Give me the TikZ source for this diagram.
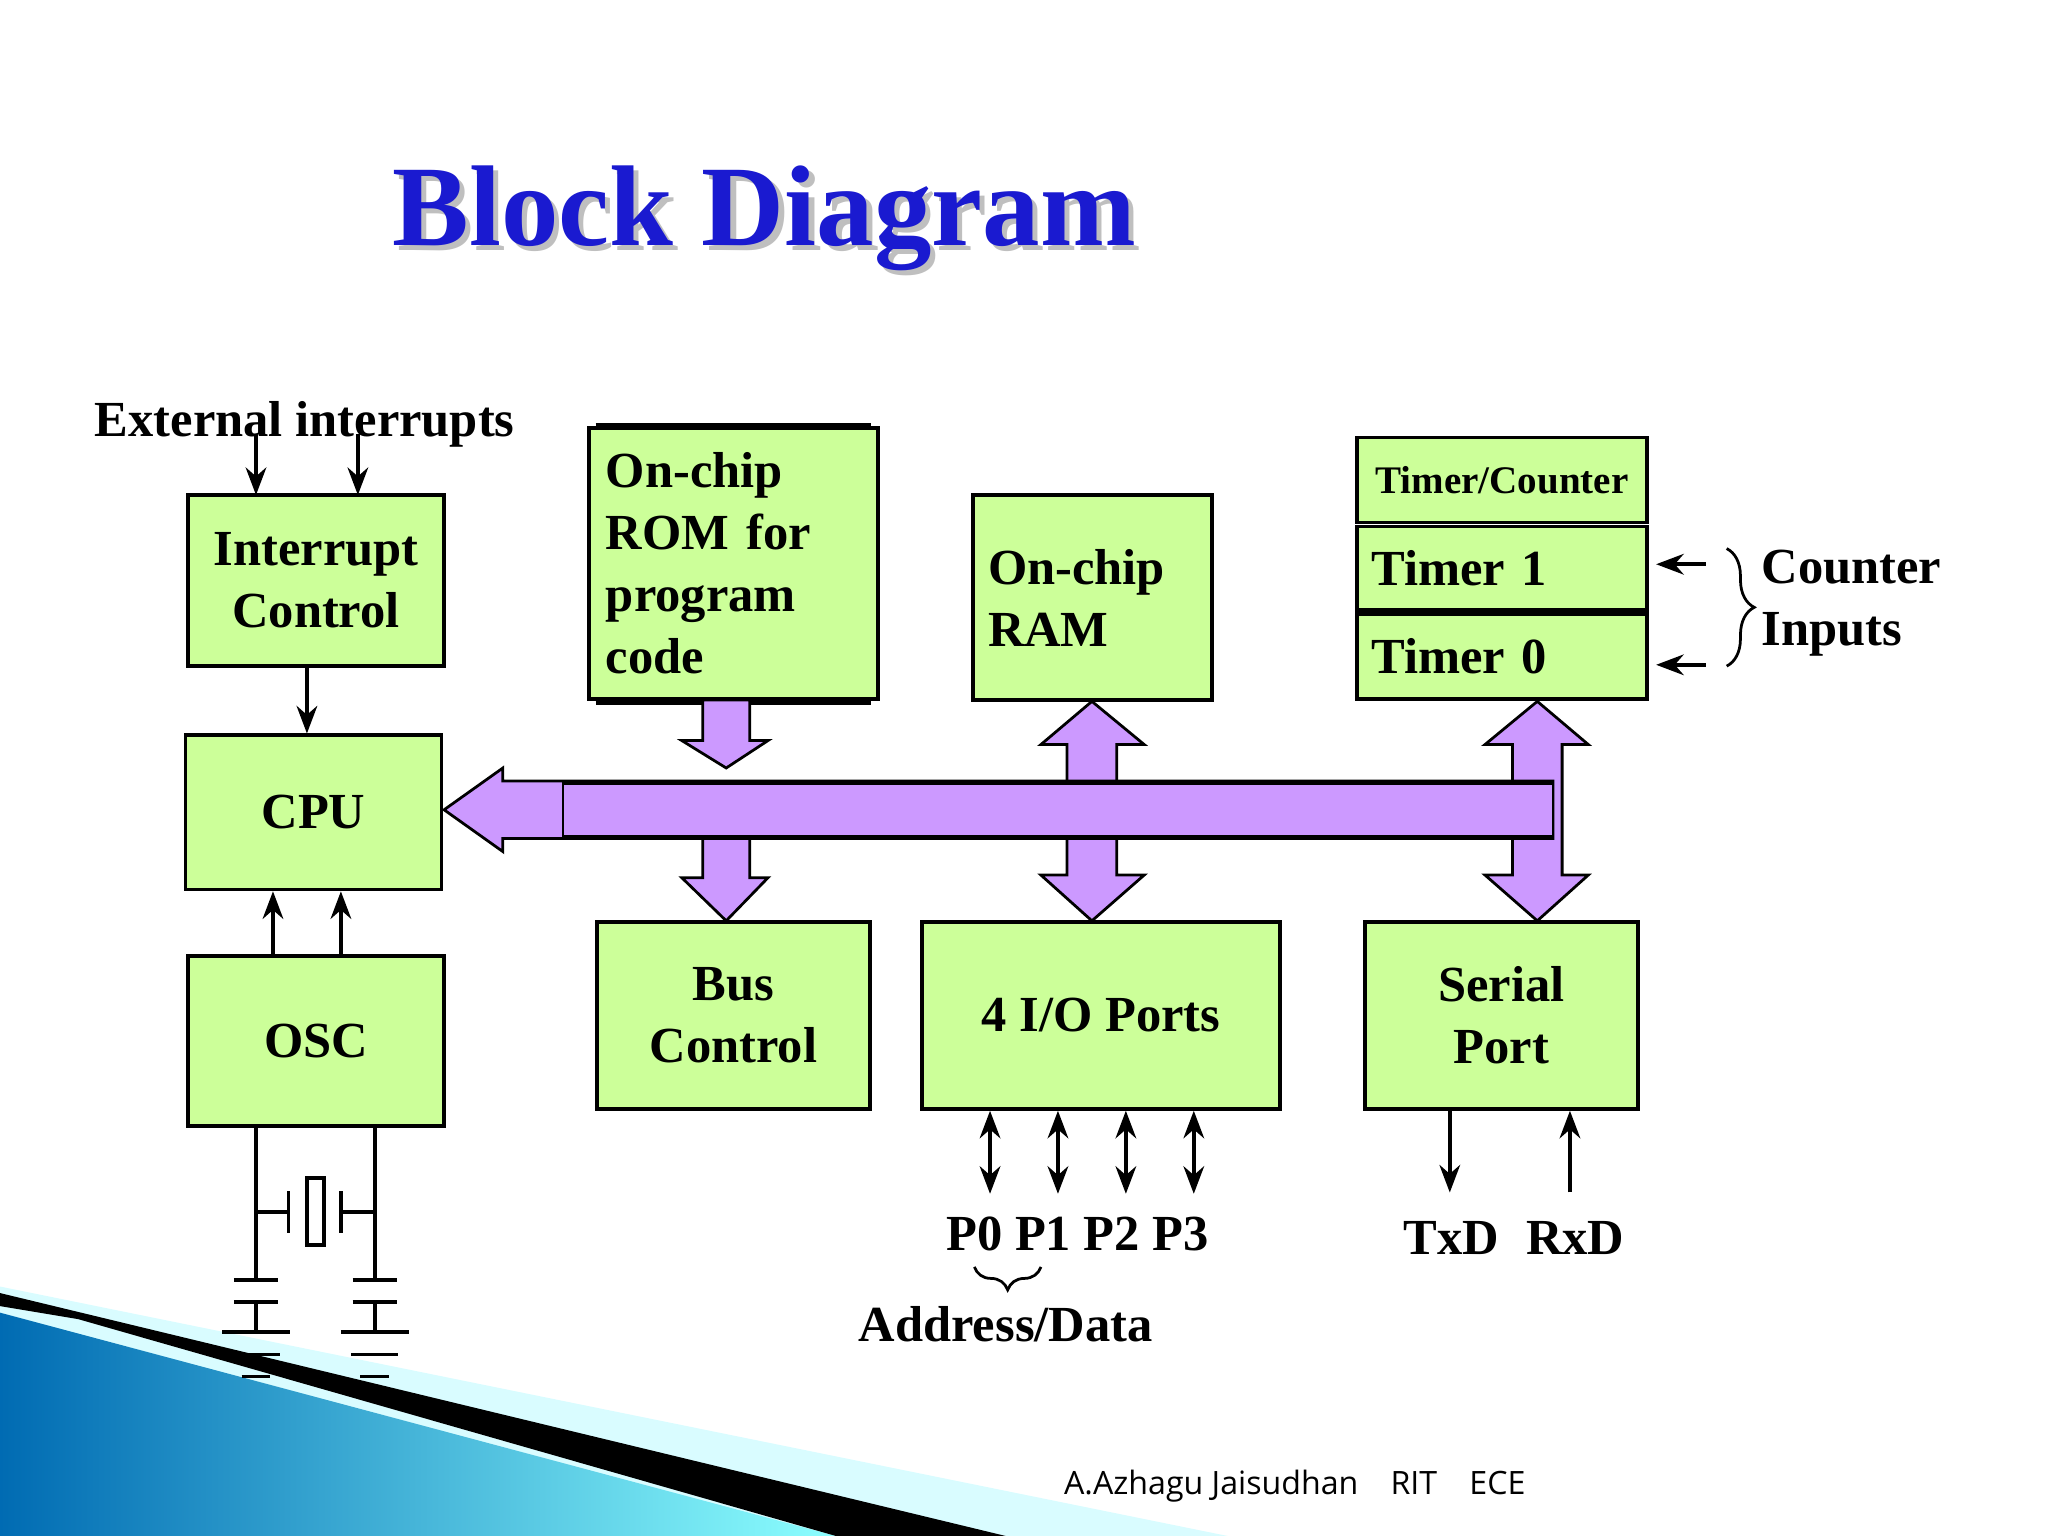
\documentclass[tikz,border=0pt]{standalone}
\usepackage{fontspec}
\setmainfont{Liberation Serif}
\newfontfamily\footfont{Open Sans}
\usetikzlibrary{arrows.meta,decorations.pathreplacing}
\definecolor{boxg}{HTML}{CCFF99}
\definecolor{busp}{HTML}{CC99FF}
\definecolor{titleb}{HTML}{1A1AD0}
\begin{document}
\begin{tikzpicture}[x=0.01cm,y=-0.01cm,
  box/.style={draw=black,fill=boxg,line width=0.8pt,inner sep=1pt,font=\fontsize{11}{13.5}\selectfont\bfseries,align=center},
  bus/.style={draw=black,fill=busp,line width=0.6pt,line join=miter},
  sig/.style={line width=0.8pt,-{Stealth[length=6pt,width=4.5pt]}},
  sigb/.style={line width=0.8pt,{Stealth[length=6pt,width=4.5pt]}-{Stealth[length=6pt,width=4.5pt]}},
  wire/.style={line width=0.8pt},
  lbl/.style={font=\fontsize{11}{13.5}\selectfont\bfseries,inner sep=0pt}]
\useasboundingbox (0,0) rectangle (1568,1176);
% background decoration
\fill[blue!8!cyan!15!white] (0,985) -- (940,1176) -- (0,1176) -- cycle;
\shade[left color=cyan!60!blue!70!black,right color=cyan!45] (0,1005) -- (640,1176) -- (0,1176) -- cycle;
\fill[black] (0,990) -- (770,1176) -- (640,1176) -- (60,1010) -- (0,1000) -- cycle;
% title
\node[font=\fontsize{25}{28}\selectfont\bfseries,text=gray!50,inner sep=0pt] at (589,171) {Block Diagram};
\node[font=\fontsize{25}{28}\selectfont\bfseries,text=titleb,inner sep=0pt] (title) at (585,167) {Block Diagram};
% boxes
\node[box,minimum width=1.96cm,minimum height=1.31cm] (int) at (242,444.5) {Interrupt\\Control};
\node[box,minimum width=1.96cm,minimum height=1.18cm] (cpu) at (240,622) {CPU};
\node[box,minimum width=1.96cm,minimum height=1.30cm] (osc) at (242,797) {OSC};
\node[box,minimum width=2.21cm,minimum height=2.07cm,align=left,text width=1.95cm] (rom) at (561.5,431.5) {On-chip\\ROM for\\program\\code};
\draw[wire] (456,325) -- (667,325) (456,538) -- (667,538);
\node[box,minimum width=1.83cm,minimum height=1.57cm,align=left,text width=1.6cm] (ram) at (836.5,457.5) {On-chip\\RAM};
\node[box,minimum width=2.22cm,minimum height=0.65cm,font=\fontsize{8.5}{10}\selectfont\bfseries] (tc) at (1150,367.5) {Timer/Counter};
\node[box,minimum width=2.22cm,minimum height=0.64cm,align=left,text width=2.0cm] (t1) at (1150,435) {Timer 1};
\node[box,minimum width=2.22cm,minimum height=0.65cm,align=left,text width=2.0cm] (t0) at (1150,502.5) {Timer 0};
\node[box,minimum width=2.09cm,minimum height=1.43cm] (busc) at (561.5,777.5) {Bus\\Control};
\node[box,minimum width=2.74cm,minimum height=1.43cm] (io) at (843,777.5) {4 I/O Ports};
\node[box,minimum width=2.09cm,minimum height=1.43cm] (ser) at (1149.5,777.5) {Serial\\Port};
% vertical bus arrows
\draw[bus] (538,536) -- (574,536) -- (574,567) -- (588,567) -- (556,588) -- (522,567) -- (538,567) -- cycle;
\draw[bus] (538,640) -- (574,640) -- (574,672) -- (588,672) -- (556,705) -- (522,672) -- (538,672) -- cycle;
\draw[bus] (836,537) -- (876,570) -- (855,570) -- (855,670) -- (876,670) -- (836,705) -- (797,670) -- (817,670) -- (817,570) -- (797,570) -- cycle;
\draw[bus] (1177,537) -- (1216,570) -- (1196,570) -- (1196,670) -- (1216,670) -- (1177,705) -- (1137,670) -- (1158,670) -- (1158,570) -- (1137,570) -- cycle;
% horizontal bus
\draw[bus] (340,620) -- (385,588) -- (385,598) -- (1189,598) -- (1189,642) -- (385,642) -- (385,652) -- cycle;
\draw[bus] (431,600) rectangle (1189,640);
% labels
\node[lbl,anchor=west] (ext) at (72,325) {External interrupts};
\coordinate (e1) at (196,332); \coordinate (e2) at (274,332);
\draw[sig] (e1) -- (196,379);
\draw[sig] (e2) -- (274,379);
\draw[sig] (int.south -| 235,0) -- (cpu.north -| 235,0);
\draw[sig] (osc.north -| 209,0) -- (cpu.south -| 209,0);
\draw[sig] (osc.north -| 261,0) -- (cpu.south -| 261,0);
% oscillator circuit
\draw[wire] (196,862) -- (196,980) (287,862) -- (287,980);
\draw[wire] (196,928) -- (221,928) (221,912) -- (221,944);
\draw[wire] (287,928) -- (261,928) (261,912) -- (261,944);
\draw[wire] (235,902) rectangle (248,953);
\foreach \x in {196,287}{
  \draw[wire] (\x-17,980) -- (\x+17,980) (\x-17,997) -- (\x+17,997) (\x,997) -- (\x,1020);
  \draw[wire] (\x-26,1020) -- (\x+26,1020) (\x-18,1037) -- (\x+18,1037) (\x-11,1054) -- (\x+11,1054);
}
% IO ports
\foreach \x/\p in {758/P0,810/P1,862/P2,914/P3}{
  \coordinate (p\p) at (\x,914);
  \draw[sigb] (io.south -| \x,0) -- (p\p);
}
\node[lbl] (plbl) at (825,945) {P0 P1 P2 P3};
\draw[wire,line width=0.6pt,decorate,decoration={brace,amplitude=5pt,mirror}] (746,970) -- (797,970);
\node[lbl] (addr) at (770,1014) {Address/Data};
% serial
\coordinate (txd) at (1110,913); \coordinate (rxd) at (1202,913);
\draw[sig] (ser.south -| 1110,0) -- (txd);
\draw[sig] (rxd) -- (ser.south -| 1202,0);
\node[lbl] at (1111,948) {TxD};
\node[lbl] at (1206,948) {RxD};
% counter inputs
\coordinate (c1) at (1306,432); \coordinate (c0) at (1306,509);
\draw[sig] (c1) -- (1268,432);
\draw[sig] (c0) -- (1268,509);
\draw[wire,line width=0.6pt,decorate,decoration={brace,amplitude=6pt}] (1322,420) -- (1322,510);
\node[lbl,anchor=west,align=left] (cin) at (1348,462) {Counter\\Inputs};
% footer
\node[font=\footfont\fontsize{7}{9}\selectfont,anchor=west,inner sep=0pt] at (814,1138) {A.Azhagu Jaisudhan\quad RIT\quad ECE};
\end{tikzpicture}
\end{document}
